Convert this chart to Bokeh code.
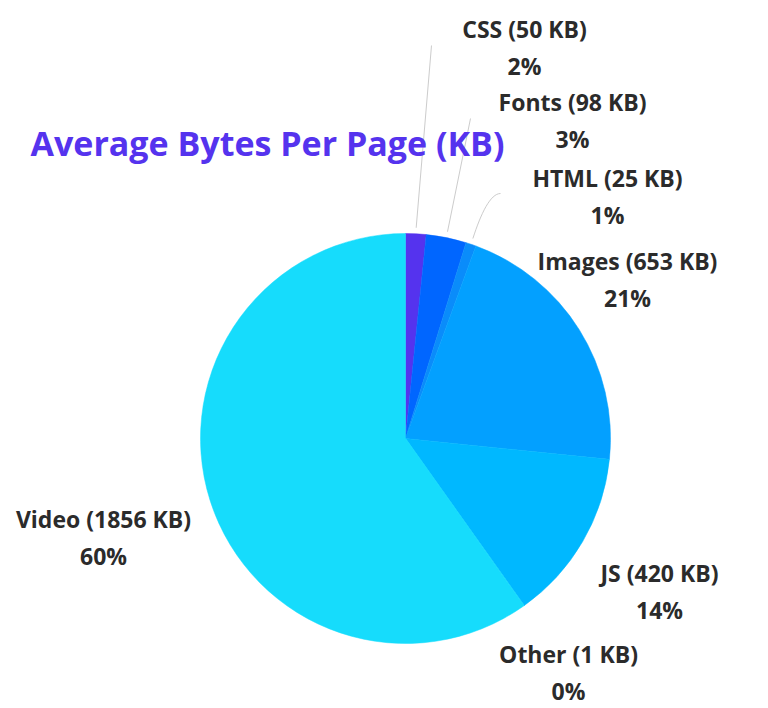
import numpy as np
from bokeh.plotting import figure
from bokeh.models import Range1d, ColumnDataSource
from bokeh.core.properties import value
from bokeh.embed import file_html
from bokeh.resources import INLINE

# ---- data ----
categories = ["CSS", "Fonts", "HTML", "Images", "JS", "Other", "Video"]
kilobytes = [50, 98, 25, 653, 420, 1, 1856]
percent_labels = ["2%", "3%", "1%", "21%", "14%", "0%", "60%"]
colors = ["#5533EE", "#0066FF", "#0A8CFA", "#03A0FF", "#00B8FF", "#10D0FD", "#16DCFC"]
title_text = "Average Bytes Per Page (KB)"

# ---- layout (page pixels) ----
W, H = 768, 708
def px(sx):  # page x -> data x
    return sx
def py(sy):  # page y -> data y
    return H - sy

cx, cy, R = px(405), py(438), 205
# label anchor (name line centre) in page px
label_pos = [(524, 28), (572, 101), (607, 177), (627, 260), (659, 572), (568, 653), (103, 518)]
line_gap = 37
# leader line far ends (page px) for the tiny slices
leader_end = {0: (431, 45), 1: (470, 118)}

vals = np.array(kilobytes, dtype=float)
frac = vals / vals.sum()
cum_end = np.cumsum(frac)
cum_start = cum_end - frac
start_angle = np.pi / 2 - 2 * np.pi * cum_end
end_angle = np.pi / 2 - 2 * np.pi * cum_start
mid = (start_angle + end_angle) / 2

p = figure(width=W, height=H, output_backend="svg", toolbar_location=None,
           x_range=Range1d(0, W), y_range=Range1d(0, H), min_border=0,
           outline_line_color=None)
p.axis.visible = False
p.grid.visible = False
p.background_fill_color = "white"
p.border_fill_color = "white"

src = ColumnDataSource(dict(start=start_angle, end=end_angle, color=colors, cat=categories))
p.wedge(x=cx, y=cy, radius=R, start_angle="start", end_angle="end",
        fill_color="color", line_color="color", line_width=0.5, source=src)

# leader lines
for i, (ex, ey) in leader_end.items():
    sx0 = cx + (R + 6) * np.cos(mid[i])
    sy0 = cy + (R + 6) * np.sin(mid[i])
    p.line([sx0, px(ex)], [sy0, py(ey)], line_color="#CCCCCC", line_width=1)
# HTML curved leader
i = 2
sx0 = cx + (R + 6) * np.cos(mid[i])
sy0 = cy + (R + 6) * np.sin(mid[i])
p.bezier(x0=[sx0], y0=[sy0], x1=[px(500)], y1=[py(193)],
         cx0=[sx0 + 8], cy0=[sy0 + 25], cx1=[px(490)], cy1=[py(193)],
         line_color="#CCCCCC", line_width=1)

# labels
names = [f"{c} ({k} KB)" for c, k in zip(categories, kilobytes)]
lx = [px(a) for a, b in label_pos]
ly = [py(b) for a, b in label_pos]
ly2 = [py(b + line_gap) for a, b in label_pos]
for ys, txt in ((ly, names), (ly2, percent_labels)):
    p.text(x=lx, y=ys, text=txt, text_align="center", text_baseline="middle",
           text_font=value("Open Sans"), text_font_style="bold", text_font_size="23px",
           text_color="#2B2B2B")

# title
p.text(x=[px(30)], y=[py(142)], text=[title_text], text_align="left", text_baseline="middle",
       text_font=value("Open Sans"), text_font_style="bold", text_font_size="34px",
       text_color="#5533EE")

open("out.html", "w").write(file_html(p, INLINE))
